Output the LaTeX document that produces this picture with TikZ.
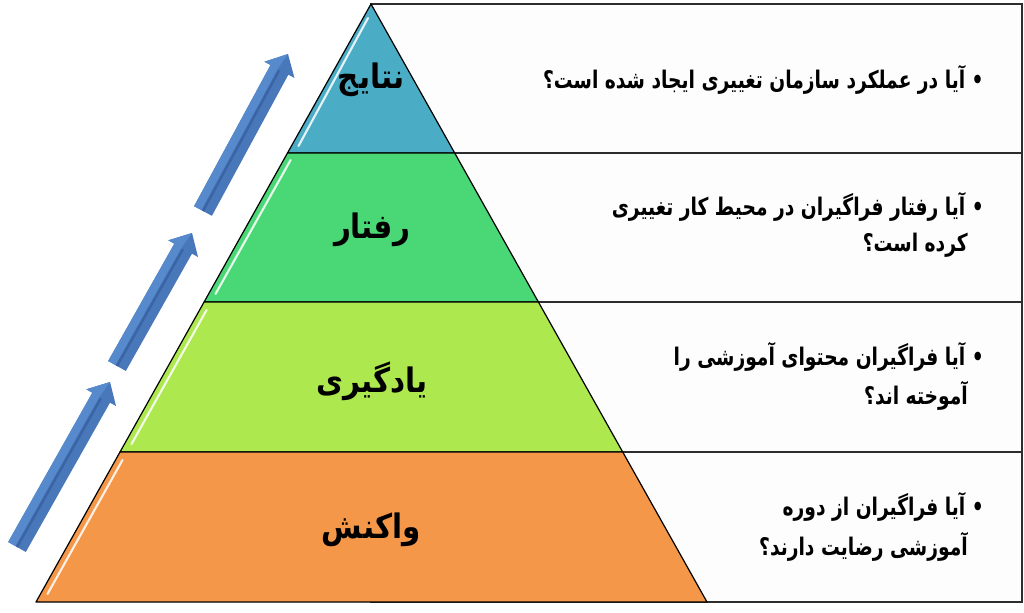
\documentclass[tikz,border=0pt]{standalone}
\usepackage{fontspec}
\newfontfamily\fa[Script=Arabic]{DejaVu Sans}
\TeXXeTstate=1
\usetikzlibrary{calc}
\definecolor{bandA}{RGB}{75,172,198}
\definecolor{bandB}{RGB}{74,216,118}
\definecolor{bandC}{RGB}{173,232,78}
\definecolor{bandD}{RGB}{245,151,72}
\definecolor{boxfill}{RGB}{253,253,253}
\definecolor{boxline}{RGB}{45,45,45}
\definecolor{arrowmid}{RGB}{72,120,186}
\definecolor{arrowlight}{RGB}{86,138,204}
\definecolor{arrowridge}{RGB}{58,100,164}
\newcommand\blockarrow[2]{%
  \coordinate (#2b) at ($(#2)!13.5pt!(#1)$);
  \fill[arrowmid] ($(#1)!7.6pt!90:(#2)$) -- ($(#1)!7.6pt!-90:(#2)$)
     -- ($(#2b)!7.6pt!-90:(#2)$) -- ($(#2b)!12.8pt!-90:(#2)$) -- (#2)
     -- ($(#2b)!12.8pt!90:(#2)$) -- ($(#2b)!7.6pt!90:(#2)$) -- cycle;
  \fill[arrowlight] ($(#1)!1.5pt!90:(#2)$) -- ($(#1)!7.6pt!90:(#2)$) -- ($(#2b)!7.6pt!90:(#2)$)
     -- ($(#2b)!12.8pt!90:(#2)$) -- (#2) -- ($(#2b)!1.5pt!90:(#2)$) -- cycle;
  \draw[arrowridge,line width=1.8pt] (#1) -- ($(#2b)!0.5pt!(#1)$);
}
\begin{document}
\begin{tikzpicture}[x=0.75pt,y=-0.75pt,
  rowbox/.style={fill=boxfill,draw=boxline,line width=1.1pt},
  band/.style={draw=black,line width=0.9pt,line join=round},
  gloss/.style={draw=white,line width=1.6pt,opacity=0.85,line cap=round},
  lvl/.style={font=\fa\bfseries\fontsize{22}{26}\selectfont,inner sep=0pt},
  qtext/.style={font=\fa\bfseries\fontsize{14}{17}\selectfont,inner sep=0pt,anchor=east}]
\useasboundingbox (0,0) rectangle (1024,613);
\fill[white] (0,0) rectangle (1024,613);
% right-hand rows
\path[rowbox] (371,4) rectangle (1022,153);
\path[rowbox] (371,153) rectangle (1022,302);
\path[rowbox] (371,302) rectangle (1022,452);
\path[rowbox] (371,452) rectangle (1022,602);
% pyramid
\coordinate (apex) at (371,4);
\path[band,fill=bandA] (apex) -- (454.7,153) -- (287.5,153) -- cycle;
\path[band,fill=bandB] (287.5,153) -- (454.7,153) -- (538.4,302) -- (204.1,302) -- cycle;
\path[band,fill=bandC] (204.1,302) -- (538.4,302) -- (622.7,452) -- (120,452) -- cycle;
\path[band,fill=bandD] (120,452) -- (622.7,452) -- (707,602) -- (36,602) -- cycle;
% gloss highlights
\draw[gloss] (368,18) -- (298.5,146);
\draw[gloss] (290.6,160) -- (215.5,294);
\draw[gloss] (206.6,310) -- (131.5,444);
\draw[gloss] (122.5,460) -- (47.5,594);
% level labels
\node[lvl] (l1) at (371,80) {\scalebox{1}[1.15]{\beginR نتایج\endR}};
\node[lvl] (l2) at (372,230) {\scalebox{1}[1.15]{\beginR رفتار\endR}};
\node[lvl] (l3) at (372,381) {\scalebox{1}[1.15]{\beginR یادگیری\endR}};
\node[lvl] (l4) at (371,530) {\scalebox{1}[1.15]{\beginR واکنش\endR}};
% questions
\node[qtext] (q1) at (984,80) {\scalebox{1}[1.3]{\beginR • آیا در عملکرد سازمان تغییری ایجاد شده است؟\endR}};
\node[qtext] (q2a) at (984,207) {\scalebox{1}[1.3]{\beginR • آیا رفتار فراگیران در محیط کار تغییری\endR}};
\node[qtext] (q2b) at (968,245) {\scalebox{1}[1.3]{\beginR کرده است؟\endR}};
\node[qtext] (q3a) at (984,357) {\scalebox{1}[1.3]{\beginR • آیا فراگیران محتوای آموزشی را\endR}};
\node[qtext] (q3b) at (968,396) {\scalebox{1}[1.3]{\beginR آموخته اند؟\endR}};
\node[qtext] (q4a) at (984,507) {\scalebox{1}[1.3]{\beginR • آیا فراگیران از دوره\endR}};
\node[qtext] (q4b) at (968,547) {\scalebox{1}[1.3]{\beginR آموزشی رضایت دارند؟\endR}};
% arrows
\coordinate (t1) at (17,547);  \coordinate (h1) at (110,382);
\coordinate (t2) at (117,366); \coordinate (h2) at (192,233);
\coordinate (t3) at (203,211); \coordinate (h3) at (288,54);
\blockarrow{t1}{h1}
\blockarrow{t2}{h2}
\blockarrow{t3}{h3}
\end{tikzpicture}
\end{document}
